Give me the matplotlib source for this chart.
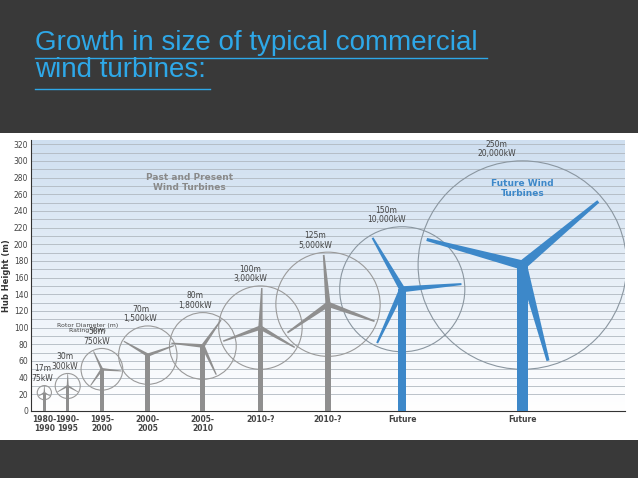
import numpy as np
import matplotlib.pyplot as plt
from matplotlib.patches import Circle, Polygon, Rectangle

# Datos
periods = ["1980-\n1990", "1990-\n1995", "1995-\n2000", "2000-\n2005", "2005-\n2010",
           "2010-?", "2010-?", "Future", "Future"]
x_pos = [16, 44, 85, 140, 206, 275, 356, 445, 589]
hub_height = [22, 30, 50, 67, 78, 100, 128, 146, 175]
diameter = [17, 30, 50, 70, 80, 100, 125, 150, 250]
rating = ["75kW", "300kW", "750kW", "1,500kW", "1,800kW", "3,000kW", "5,000kW", "10,000kW", "20,000kW"]
blade_angles = [[90, 210, 330], [90, 210, 330], [115, 355, 235], [150, 20, 265],
                [175, 55, 295], [88, 200, 330], [95, 215, 340], [120, 5, 245], [165, 40, 285]]
future = [False] * 7 + [True, True]

W, H = 638, 478
fig = plt.figure(figsize=(W / 100, H / 100), dpi=100)
fig.patch.set_facecolor("#393939")
fig.patches.append(Rectangle((0, 38 / H), 1, 307 / H, transform=fig.transFigure,
                             facecolor="white", edgecolor="none", zorder=-1))
fig.text(35 / W, 1 - 30 / H, "Growth in size of typical commercial\nwind turbines:",
         color="#2ea8e8", fontsize=20, va="top", ha="left", linespacing=1.05,
         family="Liberation Sans")
# subrayado
for yy, x2 in [(58, 487), (89, 210)]:
    fig.lines.append(plt.Line2D([35 / W, x2 / W], [1 - yy / H] * 2, transform=fig.transFigure,
                                color="#2ea8e8", lw=1))

ax = fig.add_axes([31 / W, 67 / H, (625 - 31) / W, (411 - 140) / H])
ax.set_zorder(2)
ax.set_xlim(0, 712)
ax.set_ylim(0, 325)
grad = np.linspace(0, 1, 256).reshape(-1, 1)
ax.imshow(grad, extent=[0, 712, 0, 325], origin="lower", aspect="auto",
          cmap=plt.matplotlib.colors.LinearSegmentedColormap.from_list("g", ["#ffffff", "#cfdff0"]),
          zorder=0)
for y in range(20, 321, 10):
    ax.axhline(y, color="#b0b8c0", lw=0.6, zorder=1)

for i in range(len(x_pos)):
    c = "#3d88c9" if future[i] else "#8f8f8f"
    xc, yc, r = x_pos[i], hub_height[i], diameter[i] / 2
    tw = 2.5 + diameter[i] * 0.045
    ax.add_patch(Rectangle((xc - tw / 2, 0), tw, yc, color=c, zorder=3, lw=0))
    ax.add_patch(Circle((xc, yc), r, fill=False, ec="#8a96a0" if future[i] else "#9a9a9a",
                        lw=0.8, zorder=2))
    bw = 1.2 + diameter[i] * 0.04
    for a in blade_angles[i]:
        t = np.radians(a)
        d = np.array([np.cos(t), np.sin(t)])
        n = np.array([-d[1], d[0]])
        L = r * 0.95
        pts = [(xc, yc) + n * bw / 2, (xc, yc) + d * L + n * bw / 6,
               (xc, yc) + d * L - n * bw / 6, (xc, yc) - n * bw / 2]
        ax.add_patch(Polygon(pts, color=c, zorder=4, lw=0))
    ax.text(xc - 0.25 * r, yc + r + 3, f"{diameter[i]}m\n{rating[i]}", ha="center", va="bottom",
            fontsize=5.5, color="#444444", linespacing=1.1, zorder=5)

ax.text(68, 93, "Rotor Diameter (m)\nRating (kW)", ha="center", va="bottom", fontsize=4.5,
        color="#444444", linespacing=1.1)
ax.text(190, 265, "Past and Present\nWind Turbines", ha="center", fontsize=6.5,
        color="#8a8a8a", fontweight="bold", linespacing=1.1)
ax.text(589, 258, "Future Wind\nTurbines", ha="center", fontsize=6.5,
        color="#3d88c9", fontweight="bold", linespacing=1.1)

ax.set_yticks(range(0, 321, 20))
ax.set_xticks(x_pos)
ax.set_xticklabels(periods, fontsize=5.5, fontweight="bold", color="#444444", linespacing=1.0)
ax.tick_params(axis="y", labelsize=5.5, labelcolor="#444444", length=0, pad=2)
ax.tick_params(axis="x", length=0, pad=3)
ax.set_ylabel("Hub Height (m)", fontsize=6, fontweight="bold", color="#333333", labelpad=2)
for s in ["top", "right"]:
    ax.spines[s].set_visible(False)
ax.spines["left"].set_color("#333333")
ax.spines["bottom"].set_color("#333333")

fig.savefig("out.png", dpi=100, facecolor=fig.get_facecolor())
